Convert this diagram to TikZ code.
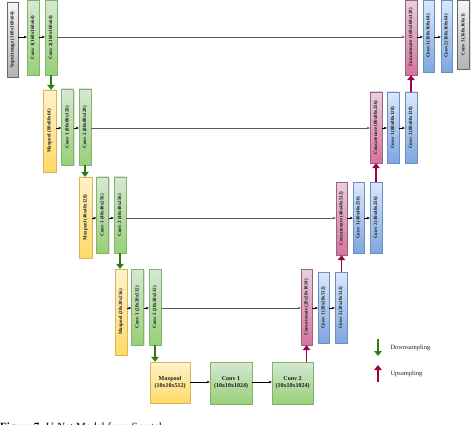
\documentclass[tikz,border=0pt]{standalone}
\usepackage{fontspec}
\setmainfont{Liberation Serif}
\usetikzlibrary{arrows.meta,shadows}
\definecolor{grntop}{HTML}{D5E8D4}
\definecolor{grnbot}{HTML}{97D077}
\definecolor{grnline}{HTML}{82B366}
\definecolor{ylwtop}{HTML}{FFF2CC}
\definecolor{ylwbot}{HTML}{FFD966}
\definecolor{ylwline}{HTML}{D6B656}
\definecolor{pnktop}{HTML}{E6D0DE}
\definecolor{pnkbot}{HTML}{D5739D}
\definecolor{pnkline}{HTML}{996185}
\definecolor{blutop}{HTML}{DAE8FC}
\definecolor{blubot}{HTML}{7EA6E0}
\definecolor{bluline}{HTML}{6C8EBF}
\definecolor{grytop}{HTML}{F5F5F5}
\definecolor{grybot}{HTML}{B3B3B3}
\definecolor{gryline}{HTML}{666666}
\definecolor{dgreen}{HTML}{2E7D14}
\definecolor{dred}{HTML}{9E0046}
\tikzset{
  blk/.style={draw, line width=0.4pt, inner sep=0pt,
    drop shadow={opacity=0.25,shadow xshift=1pt,shadow yshift=-1pt}},
  convg/.style={blk, draw=grnline, top color=grntop, bottom color=grnbot},
  poolg/.style={blk, draw=ylwline, top color=ylwtop, bottom color=ylwbot},
  catg/.style={blk, draw=pnkline, top color=pnktop, bottom color=pnkbot},
  convb/.style={blk, draw=bluline, top color=blutop, bottom color=blubot},
  grayg/.style={blk, draw=gryline, top color=grytop, bottom color=grybot},
  vtxt/.style={rotate=90, inner sep=0pt, font=\fontsize{5}{6}\selectfont\bfseries, text=black!90},
  htxt/.style={align=center, font=\fontsize{6}{7.2}\selectfont\bfseries, text=black!90},
  flow/.style={-{Stealth[length=3pt,width=2.6pt]}, line width=0.4pt},
  skipline/.style={flow, draw=black!65},
  down/.style={-{Triangle[length=5pt,width=7.5pt]}, line width=1.6pt, draw=dgreen, fill=dgreen},
  up/.style={-{Triangle[length=5pt,width=7.5pt]}, line width=1.6pt, draw=dred, fill=dred},
  legtxt/.style={font=\fontsize{6.5}{8}\selectfont, text=black!85}
}
\begin{document}
\begin{tikzpicture}[x=1pt,y=-1pt]
\useasboundingbox (0,0) rectangle (474,425);
\clip (0,0) rectangle (474,425);
% level lines
\coordinate (l1) at (0,37);
\coordinate (l2) at (0,128);
\coordinate (l3) at (0,218);
\coordinate (l4) at (0,308);
\coordinate (l5) at (0,382);
% encoder, level 1
\node[grayg, minimum width=11, minimum height=75, label={[vtxt]center:Input image (160x160x64)}] (e1in) at (12.5,39.5) {};
\node[convg, minimum width=12, minimum height=75, label={[vtxt]center:Conv 1(160x160x64)}] (e1c1) at (33,37.5) {};
\node[convg, minimum width=12, minimum height=75, label={[vtxt]center:Conv 2(160x160x64)}] (e1c2) at (51,37.5) {};
% encoder, level 2
\node[poolg, minimum width=13, minimum height=82, label={[vtxt]center:Maxpool (80x80x64)}] (e2mp) at (49.5,131) {};
\node[convg, minimum width=12, minimum height=76, label={[vtxt]center:Conv 1 (80x80x128)}] (e2c1) at (67.5,127) {};
\node[convg, minimum width=12, minimum height=76, label={[vtxt]center:Conv 2 (80x80x128)}] (e2c2) at (85,127) {};
% encoder, level 3
\node[poolg, minimum width=13, minimum height=81, label={[vtxt]center:Maxpool (40x40x128)}] (e3mp) at (85.5,217.5) {};
\node[convg, minimum width=12, minimum height=76, label={[vtxt]center:Conv 1 (40x40x256)}] (e3c1) at (102.5,215) {};
\node[convg, minimum width=12, minimum height=76, label={[vtxt]center:Conv 2 (40x40x256)}] (e3c2) at (120,215) {};
% encoder, level 4
\node[poolg, minimum width=12, minimum height=86, label={[vtxt]center:Maxpool (20x20x256)}] (e4mp) at (121,312) {};
\node[convg, minimum width=12, minimum height=76, label={[vtxt]center:Conv 1 (20x20x512)}] (e4c1) at (137.5,307) {};
\node[convg, minimum width=12, minimum height=76, label={[vtxt]center:Conv 2 (20x20x512)}] (e4c2) at (155,307) {};
% bottom
\node[poolg, htxt, minimum width=40, minimum height=41] (b5mp) at (170,382.5) {Maxpool\\(10x10x512)};
\node[convg, htxt, minimum width=42, minimum height=42] (b5c1) at (231,383) {Conv 1\\(10x10x1024)};
\node[convg, htxt, minimum width=41, minimum height=42] (b5c2) at (292.5,383) {Conv 2\\(10x10x1024)};
% decoder, level 4
\node[catg, minimum width=11, minimum height=76, label={[vtxt]center:Concatenate (20x20x1024)}] (d4cat) at (306.5,307) {};
\node[convb, minimum width=11, minimum height=71, label={[vtxt]center:Conv 1 (20x20x512)}] (d4c1) at (323.5,307.5) {};
\node[convb, minimum width=12, minimum height=71, label={[vtxt]center:Conv 2 (20x20x512)}] (d4c2) at (341,307.5) {};
% decoder, level 3
\node[catg, minimum width=11, minimum height=73, label={[vtxt]center:Concatenate (40x40x512)}] (d3cat) at (341.5,218.5) {};
\node[convb, minimum width=11, minimum height=71, label={[vtxt]center:Conv 1 (40x40x256)}] (d3c1) at (358.5,217.5) {};
\node[convb, minimum width=12, minimum height=71, label={[vtxt]center:Conv 2 (40x40x256)}] (d3c2) at (376,217.5) {};
% decoder, level 2
\node[catg, minimum width=12, minimum height=71, label={[vtxt]center:Concatenate (80x80x256)}] (d2cat) at (376,127.5) {};
\node[convb, minimum width=12, minimum height=71, label={[vtxt]center:Conv 1 (80x80x128)}] (d2c1) at (393,127.5) {};
\node[convb, minimum width=12, minimum height=71, label={[vtxt]center:Conv 2 (80x80x128)}] (d2c2) at (411,127.5) {};
% decoder, level 1
\node[catg, minimum width=12, minimum height=75, label={[vtxt]center:Concatenate (160x160x128)}] (d1cat) at (411,37.5) {};
\node[convb, minimum width=11, minimum height=72, label={[vtxt]center:Conv 1(160x160x64)}] (d1c1) at (428.5,36) {};
\node[convb, minimum width=11, minimum height=72, label={[vtxt]center:Conv 2(160x160x64)}] (d1c2) at (446.5,36) {};
\node[grayg, minimum width=12, minimum height=69, label={[vtxt]center:Conv 3 (160x160x1)}] (d1c3) at (463.5,34.5) {};
% arrows inside levels
\draw[flow] (e1in.east |- l1) -- (e1c1.west |- l1);
\draw[flow] (e1c1.east |- l1) -- (e1c2.west |- l1);
\draw[flow] (e2mp.east |- l2) -- (e2c1.west |- l2);
\draw[flow] (e2c1.east |- l2) -- (e2c2.west |- l2);
\draw[flow] (e3mp.east |- l3) -- (e3c1.west |- l3);
\draw[flow] (e3c1.east |- l3) -- (e3c2.west |- l3);
\draw[flow] (e4mp.east |- l4) -- (e4c1.west |- l4);
\draw[flow] (e4c1.east |- l4) -- (e4c2.west |- l4);
\draw[flow] (b5mp.east |- l5) -- (b5c1.west |- l5);
\draw[flow] (b5c1.east |- l5) -- (b5c2.west |- l5);
\draw[flow] (d4cat.east |- l4) -- (d4c1.west |- l4);
\draw[flow] (d4c1.east |- l4) -- (d4c2.west |- l4);
\draw[flow] (d3cat.east |- l3) -- (d3c1.west |- l3);
\draw[flow] (d3c1.east |- l3) -- (d3c2.west |- l3);
\draw[flow] (d2cat.east |- l2) -- (d2c1.west |- l2);
\draw[flow] (d2c1.east |- l2) -- (d2c2.west |- l2);
\draw[flow] (d1cat.east |- l1) -- (d1c1.west |- l1);
\draw[flow] (d1c1.east |- l1) -- (d1c2.west |- l1);
% skip connections
\draw[skipline] (e1c2.east |- l1) -- (d1cat.west |- l1);
\draw[skipline] (e2c2.east |- l2) -- (d2cat.west |- l2);
\draw[skipline] (e3c2.east |- l3) -- (d3cat.west |- l3);
\draw[skipline] (e4c2.east |- l4) -- (d4cat.west |- l4);
% downsampling
\draw[down] (e1c2.south) -- (e1c2.south |- e2mp.north);
\draw[down] (e2c2.south) -- (e2c2.south |- e3mp.north);
\draw[down] (e3c2.south) -- (e3c2.south |- e4mp.north);
\draw[down] (e4c2.south) -- (e4c2.south |- b5mp.north);
% upsampling
\draw[up] (d4cat.south |- b5c2.north) -- (d4cat.south);
\draw[up] (d3cat.south |- d4c2.north) -- (d3cat.south);
\draw[up] (d2cat.south |- d3c2.north) -- (d2cat.south);
\draw[up] (d1cat.south |- d2c2.north) -- (d1cat.south);
% legend
\coordinate (dnA) at (378,339);
\coordinate (dnB) at (378,356);
\coordinate (upA) at (378,382);
\coordinate (upB) at (378,365);
\draw[down] (dnA) -- (dnB);
\draw[up] (upA) -- (upB);
\node[legtxt, anchor=west] (dntxt) at (387,348) {Downsampling};
\node[legtxt, anchor=west] (uptxt) at (387,373.5) {Upsampling};
% caption (cut off)
\node[anchor=base west, inner sep=0pt, font=\fontsize{11}{13}\selectfont] (cap) at (0,430) {\textbf{Figure 7.} U-Net Model from Scratch};
\end{tikzpicture}
\end{document}
